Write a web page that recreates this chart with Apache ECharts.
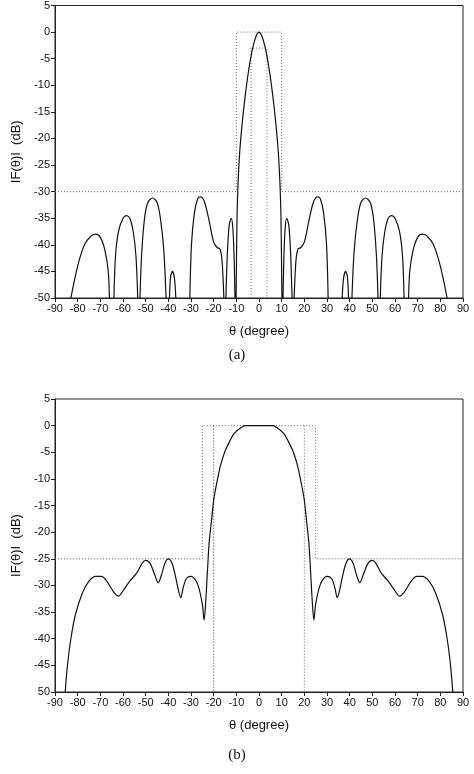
<!DOCTYPE html>
<html><head><meta charset="utf-8">
<script src="https://cdn.jsdelivr.net/npm/echarts@6/dist/echarts.min.js"></script>
<style>body{margin:0;background:#fff}#c{width:474px;height:774px}</style></head>
<body><div id="c"></div>
<script>
const xTicks=[-90,-80,-70,-60,-50,-40,-30,-20,-10,0,10,20,30,40,50,60,70,80,90];
const yTicks=[5,0,-5,-10,-15,-20,-25,-30,-35,-40,-45,-50];
// Pattern (a)
const patternA=[
[-83,-50],[-80,-44],[-77,-40],[-74,-38.3],[-72,-38],[-70,-38.6],[-68,-41],[-66.5,-45],[-66,-50],null,
[-64,-50],[-63.3,-42],[-62,-37.5],[-60,-35],[-58.5,-34.5],[-57,-35],[-55.5,-37.5],[-54.3,-42],[-53.5,-50],null,
[-52.5,-50],[-51.8,-42],[-50.5,-35],[-49,-32],[-47,-31.2],[-45,-32],[-43.5,-35],[-42,-41],[-41,-50],null,
[-39.5,-50],[-39,-46],[-38.2,-45],[-37.3,-46.3],[-36.7,-50],null,
[-30.5,-50],[-29.8,-40],[-28.5,-34],[-27,-31.3],[-25.8,-31],[-24,-32],[-22,-35.5],[-20,-39.5],[-18.5,-40.5],[-17.2,-40.8],[-16.3,-43],[-15.5,-50],null,
[-14.6,-50],[-14,-42],[-13.2,-36.5],[-12.3,-35],[-11.6,-36.5],[-11,-42],[-10.6,-50],null,
[-10.1,-50],[-9.7,-35],[-9.2,-28],[-8.5,-22.5],[-7.5,-17.5],[-6.5,-13.5],[-5.5,-10],[-4.5,-7],[-3.5,-4.5],[-2.5,-2.5],[-1.2,-0.7],[0,0],
[1.2,-0.7],[2.5,-2.5],[3.5,-4.5],[4.5,-7],[5.5,-10],[6.5,-13.5],[7.5,-17.5],[8.5,-22.5],[9.2,-28],[9.7,-35],[10.1,-50],null,
[10.6,-50],[11,-42],[11.6,-36.5],[12.3,-35],[13.2,-36.5],[14,-42],[14.6,-50],null,
[15.5,-50],[16.3,-43],[17.2,-40.8],[18.5,-40.5],[20,-39.5],[22,-35.5],[24,-32],[25.8,-31],[27,-31.3],[28.5,-34],[29.8,-40],[30.5,-50],null,
[36.7,-50],[37.3,-46.3],[38.2,-45],[39,-46],[39.5,-50],null,
[41,-50],[42,-41],[43.5,-35],[45,-32],[47,-31.2],[49,-32],[50.5,-35],[51.8,-42],[52.5,-50],null,
[53.5,-50],[54.3,-42],[55.5,-37.5],[57,-35],[58.5,-34.5],[60,-35],[62,-37.5],[63.3,-42],[64,-50],null,
[66,-50],[66.5,-45],[68,-41],[70,-38.6],[72,-38],[74,-38.3],[77,-40],[80,-44],[83,-50]
];
const maskA=[[-90,-30],[-10,-30],[-10,0],[10,0],[10,-30],[90,-30]];
const innerA=[[-3.5,-50],[-3.5,-3],[3.5,-3],[3.5,-50]];
// Pattern (b)
const patternB=[
[-85.5,-50],[-84.5,-45],[-83,-40],[-81,-35.5],[-78,-31.5],[-75,-29.2],[-72,-28.3],[-69.5,-28.3],[-67,-29.3],[-64,-31.3],[-62,-32],[-60,-31],[-57,-29.2],[-54,-27.7],[-51.5,-25.8],[-50,-25.3],[-48,-25.9],[-46,-28],[-44.5,-29.5],[-43,-28],[-41.5,-25.8],[-40,-25],[-38.5,-25.7],[-37,-28],[-35.5,-31],[-34.5,-32.3],[-33.5,-30.5],[-32,-28.7],[-30,-28.3],[-28,-29],[-26.5,-30.5],[-25,-33.5],[-24.2,-36.5],[-23.5,-33],[-22.7,-27],[-22,-22],[-21,-18],[-20,-14],[-18.5,-10.5],[-17,-7.5],[-15,-4.8],[-13,-3],[-11,-1.5],[-8,-0.4],[-6,0],[0,0],
[6,0],[8,-0.4],[11,-1.5],[13,-3],[15,-4.8],[17,-7.5],[18.5,-10.5],[20,-14],[21,-18],[22,-22],[22.7,-27],[23.5,-33],[24.2,-36.5],[25,-33.5],[26.5,-30.5],[28,-29],[30,-28.3],[32,-28.7],[33.5,-30.5],[34.5,-32.3],[35.5,-31],[37,-28],[38.5,-25.7],[40,-25],[41.5,-25.8],[43,-28],[44.5,-29.5],[46,-28],[48,-25.9],[50,-25.3],[51.5,-25.8],[54,-27.7],[57,-29.2],[60,-31],[62,-32],[64,-31.3],[67,-29.3],[69.5,-28.3],[72,-28.3],[75,-29.2],[78,-31.5],[81,-35.5],[83,-40],[84.5,-45],[85.5,-50]
];
const maskB=[[-90,-25],[-25,-25],[-25,0],[25,0],[25,-25],[90,-25]];
const innerBL=[[-20,0],[-20,-50]];
const innerBR=[[20,0],[20,-50]];

const F='Liberation Sans, Arial, sans-serif';
function xAx(i){return {type:'value',gridIndex:i,min:-90,max:90,interval:10,
  name:'θ (degree)',nameLocation:'middle',nameGap:27,nameTextStyle:{fontFamily:F,fontSize:13,color:'#111'},
  axisLine:{onZero:false,lineStyle:{color:'#222'}},axisTick:{inside:false,length:4,lineStyle:{color:'#222'}},
  axisLabel:{fontFamily:F,fontSize:11,color:'#111',margin:5},splitLine:{show:false}};}
function yAx(i,fmt){return {type:'value',gridIndex:i,min:-50,max:5,interval:5,
  name:'IF(θ)I  (dB)',nameLocation:'middle',nameGap:32,nameTextStyle:{fontFamily:F,fontSize:13,color:'#111'},
  axisLine:{onZero:false,lineStyle:{color:'#222'}},axisTick:{length:4,lineStyle:{color:'#222'}},
  axisLabel:{fontFamily:F,fontSize:11,color:'#111',margin:5,formatter:fmt},splitLine:{show:false}};}
function ln(data,i,opt){return Object.assign({type:'line',xAxisIndex:i,yAxisIndex:i,data:data,symbol:'none',
  lineStyle:{color:'#111',width:1.2},connectNulls:false,clip:true,silent:true,animation:false},opt||{});}
const dot={lineStyle:{color:'#666',width:1,type:[1,2]},z:1};
const chart=echarts.init(document.getElementById('c'),null,{renderer:'canvas'});
chart.setOption({
  animation:false,
  grid:[{left:55,width:408,top:5,height:293,show:true,borderColor:'#222',borderWidth:1},
        {left:55,width:408,top:399,height:293,show:true,borderColor:'#222',borderWidth:1}],
  xAxis:[xAx(0),xAx(1)],
  yAxis:[yAx(0,v=>String(v)),yAx(1,v=>v===-50?'50':String(v))],
  graphic:[
    {type:'text',left:'center',top:348,style:{text:'(a)',font:'15px "Liberation Serif", serif',fill:'#111'}},
    {type:'text',left:'center',top:748,style:{text:'(b)',font:'15px "Liberation Serif", serif',fill:'#111'}}
  ],
  series:[
    ln(maskA,0,dot),ln(innerA,0,dot),ln(patternA,0,{smooth:0.3}),
    ln(maskB,1,dot),ln(innerBL,1,{lineStyle:{color:'#333',width:1,type:[1,2]}}),ln(innerBR,1,dot),ln(patternB,1,{smooth:0.3})
  ]
});
</script></body></html>
